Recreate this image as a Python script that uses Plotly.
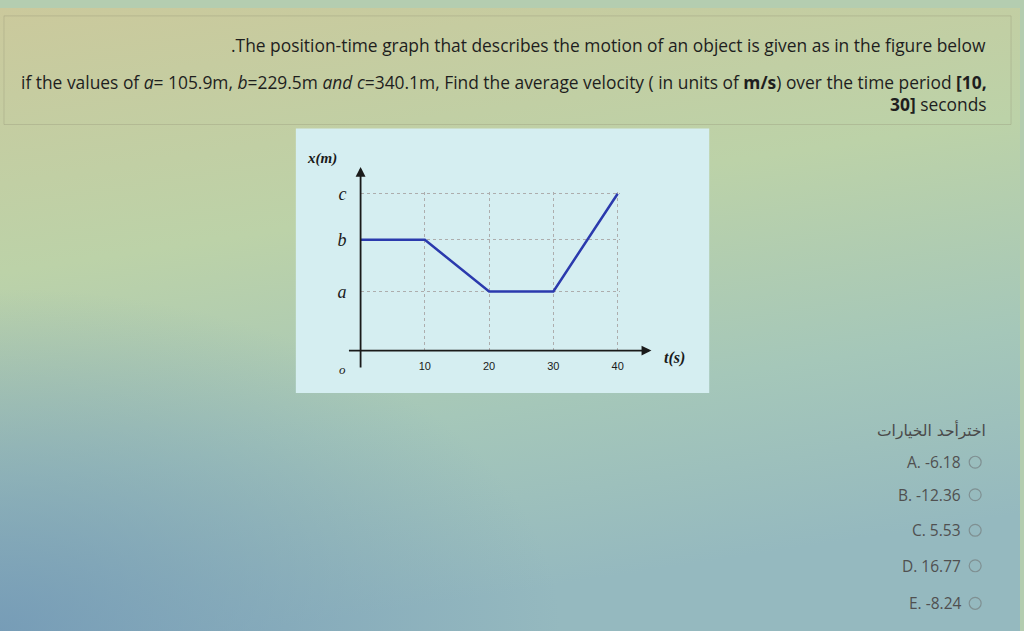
import base64
import plotly.graph_objects as go

# position-time data (values of a, b, c from the question text)
a_m, b_m, c_m = 105.9, 229.5, 340.1
time_s = [0, 10, 20, 30, 40]
position_m = [b_m, b_m, a_m, a_m, c_m]
level_vals = [a_m, b_m, c_m]
level_labels = ["a", "b", "c"]
time_ticks = [10, 20, 30, 40]
choices = ["A. -6.18", "B. -12.36", "C. 5.53", "D. 16.77", "E. -8.24"]

W, H = 1024, 631


def px(x):
    return x / W


def py(y):
    return 1 - y / H


# soft photo-like background
bg_svg = (
    "<svg xmlns='http://www.w3.org/2000/svg' width='1024' height='631'>"
    "<defs><linearGradient id='g' x1='0' y1='0' x2='0.25' y2='1'>"
    "<stop offset='0' stop-color='#cbc99c'/>"
    "<stop offset='0.4' stop-color='#bcd2a8'/>"
    "<stop offset='0.72' stop-color='#a5c7b9'/>"
    "<stop offset='1' stop-color='#95b9bf'/>"
    "</linearGradient>"
    "<radialGradient id='r' cx='0' cy='1' r='0.55'>"
    "<stop offset='0' stop-color='#7399b6' stop-opacity='0.9'/>"
    "<stop offset='1' stop-color='#7399b6' stop-opacity='0'/>"
    "</radialGradient></defs>"
    "<rect width='1024' height='631' fill='url(#g)'/>"
    "<rect width='1024' height='631' fill='url(#r)'/>"
    "</svg>"
)
bg_src = "data:image/svg+xml;base64," + base64.b64encode(bg_svg.encode()).decode()

fig = go.Figure()

fig.add_trace(
    go.Scatter(
        x=time_s,
        y=position_m,
        mode="lines",
        line=dict(color="#2b3aad", width=2.5),
        cliponaxis=False,
        hoverinfo="skip",
        showlegend=False,
    )
)

text_font = dict(family="Open Sans, sans-serif", size=17.4, color="#1e1e1e")
serif = "Liberation Serif, serif"


def note(text, x, y, font, xanchor="center"):
    return dict(text=text, x=px(x), y=py(y), xref="paper", yref="paper",
                xanchor=xanchor, yanchor="middle", showarrow=False, font=font)


def axis_arrow(x, y, ax, ay):
    return dict(x=px(x), y=py(y), xref="paper", yref="paper", ax=ax, ay=ay,
                axref="pixel", ayref="pixel", showarrow=True, arrowhead=2,
                arrowsize=1.1, arrowwidth=1.8, arrowcolor="#1a1a1a", text="")


annotations = [
    note(".The position-time graph that describes the motion of an object is given as in the figure below",
         992, 37, text_font, "right"),
    note(f"if the values of <i>a</i>= {a_m}m, <i>b</i>={b_m}m <i>and</i> <i>c</i>={c_m}m, "
         "Find the average velocity ( in units of <b>m/s</b>) over the time period <b>[10,</b>",
         993, 75, text_font, "right"),
    note("<b>30]</b> seconds", 993, 97, text_font, "right"),
    # axes drawn as arrows
    axis_arrow(654, 347, -304, 0),
    axis_arrow(362, 161, 0, 202),
    note("<b><i>x(m)</i></b>", 323, 152, dict(family=serif, size=15, color="#1a1a1a")),
    note("<b><i>t(s)</i></b>", 677, 354, dict(family=serif, size=16, color="#1a1a1a")),
    note("<i>o</i>", 344, 366, dict(family=serif, size=13, color="#1a1a1a")),
    note("اخترأحد الخيارات", 992, 427,
         dict(family="DejaVu Sans, sans-serif", size=15.5, color="#4a4a4a"), "right"),
]

shapes = [
    # question box outline
    dict(type="rect", xref="paper", yref="paper", x0=px(4), x1=px(1015), y0=py(118), y1=py(8),
         line=dict(color="rgba(150,150,120,0.35)", width=1), layer="below"),
    # light panel behind the graph
    dict(type="rect", xref="paper", yref="paper", x0=px(297), x1=px(712), y0=py(390), y1=py(122),
         fillcolor="#d5eef1", line=dict(width=0), layer="below"),
]

choice_y = [460, 493, 529, 565, 603]
for label, yy in zip(choices, choice_y):
    annotations.append(
        note(label, 967, yy, dict(family="Open Sans, sans-serif", size=15.5, color="#505050"), "right")
    )
    shapes.append(
        dict(type="circle", xref="paper", yref="paper", x0=px(973), x1=px(985),
             y0=py(yy + 6), y1=py(yy - 6), line=dict(color="#7f9092", width=1.2))
    )

fig.update_layout(
    width=W,
    height=H,
    margin=dict(l=0, r=0, t=0, b=0),
    paper_bgcolor="#b4cdb0",
    plot_bgcolor="rgba(0,0,0,0)",
    annotations=annotations,
    shapes=shapes,
    images=[
        dict(source=bg_src, xref="paper", yref="paper", x=0, y=1, sizex=1, sizey=1,
             xanchor="left", yanchor="top", sizing="stretch", layer="below")
    ],
    showlegend=False,
)

# ranges padded a little so the grid lines at t=40 and x=c are still drawn
fig.update_xaxes(
    domain=[px(362), px(622)],
    range=[0, 40.3],
    tickvals=time_ticks,
    ticklabelstandoff=7,
    tickfont=dict(family="Liberation Sans, Arial, sans-serif", size=11, color="#1a1a1a"),
    showgrid=True,
    gridcolor="#adadad",
    griddash="dot",
    gridwidth=1,
    zeroline=False,
    showline=False,
    fixedrange=True,
)
fig.update_yaxes(
    domain=[py(347), py(186)],
    range=[-36, c_m + 5],
    tickvals=level_vals,
    ticktext=[f"<i>{t}</i>" for t in level_labels],
    ticklabelstandoff=13,
    tickfont=dict(family=serif, size=18, color="#1a1a1a"),
    showgrid=True,
    gridcolor="#adadad",
    griddash="dot",
    gridwidth=1,
    zeroline=False,
    showline=False,
    fixedrange=True,
)

fig.write_html(
    "out.html",
    config={"displayModeBar": False},
    post_script="document.body.style.margin = '0';",
)
